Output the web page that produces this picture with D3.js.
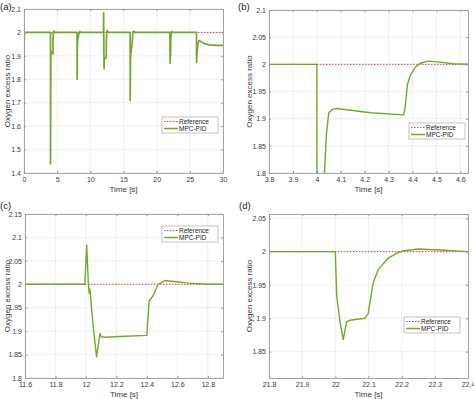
<!DOCTYPE html>
<html>
<head>
<meta charset="utf-8">
<script src="https://cdn.jsdelivr.net/npm/d3@7"></script>
<style>
  body { margin: 0; background: #fff; }
  svg { display: block; font-family: "Liberation Sans", Arial, sans-serif; }
</style>
</head>
<body>
<div id="chart"></div>
<script>
// ---------------- data ----------------
var seriesNames = ["Reference", "MPC-PID"];
var refValue = 2.0;

// start-up transient
var evt0Time  = [0, 0.02, 0.06, 0.12];
var evt0Value = [1.80, 1.95, 1.99, 2.0];

// step at 4 s  (panel b)
var evt4Time  = [3.8, 4.0, 4.001, 4.032, 4.04, 4.05, 4.064, 4.085, 4.224, 4.3625, 4.369, 4.379, 4.39, 4.411, 4.432, 4.467, 4.515, 4.571, 4.633, 4.8];
var evt4Value = [2.0, 2.0, 1.44, 1.80, 1.871, 1.911, 1.917, 1.9186, 1.911, 1.907, 1.92, 1.963, 1.979, 1.994, 2.002, 2.006, 2.004, 2.001, 2.0, 2.0];

// step at 8 s
var evt8Time  = [7.9, 8.0, 8.01, 8.04, 8.1, 8.25, 8.4, 8.6];
var evt8Value = [2.0, 2.0, 1.80, 1.94, 1.97, 1.99, 2.004, 2.0];

// step at 12 s  (panel c)
var evt12Time  = [11.6, 11.993, 12.005, 12.016, 12.022, 12.026, 12.03, 12.048, 12.07, 12.092, 12.1, 12.12, 12.26, 12.40, 12.415, 12.44, 12.474, 12.518, 12.58, 12.66, 12.79, 12.9];
var evt12Value = [2.0, 2.0, 2.084, 2.0, 1.981, 1.99, 1.975, 1.909, 1.845, 1.895, 1.888, 1.887, 1.889, 1.891, 1.965, 1.975, 2.0, 2.008, 2.006, 2.003, 2.0, 2.0];

// step at 16 s
var evt16Time  = [15.9, 16.0, 16.01, 16.05, 16.1, 16.3, 16.4, 16.5, 16.8];
var evt16Value = [2.0, 2.0, 1.71, 1.88, 1.91, 1.95, 2.0, 2.005, 2.0];

// step at 22 s  (panel d)
var evt22Time  = [21.8, 22.0, 22.004, 22.014, 22.024, 22.034, 22.044, 22.089, 22.099, 22.114, 22.129, 22.159, 22.184, 22.204, 22.249, 22.315, 22.4];
var evt22Value = [2.0, 2.0, 1.934, 1.895, 1.868, 1.895, 1.897, 1.9, 1.907, 1.953, 1.973, 1.99, 1.9975, 2.001, 2.004, 2.0025, 2.0];

// step at 26 s
var evt26Time  = [25.9, 26.0, 26.02, 26.1, 26.25, 26.4, 26.7, 27.0, 27.5, 28.0, 29.0, 30.0];
var evt26Value = [2.0, 2.0, 1.872, 1.92, 1.955, 1.966, 1.96, 1.955, 1.95, 1.947, 1.945, 1.945];

// tick values
var xTicksA = [0, 5, 10, 15, 20, 25, 30];
var yTicksA = [1.4, 1.5, 1.6, 1.7, 1.8, 1.9, 2, 2.1];
var xTicksB = [3.8, 3.9, 4, 4.1, 4.2, 4.3, 4.4, 4.5, 4.6];
var yTicksB = [1.8, 1.85, 1.9, 1.95, 2, 2.05, 2.1];
var xTicksC = [11.6, 11.8, 12, 12.2, 12.4, 12.6, 12.8];
var yTicksC = [1.8, 1.85, 1.9, 1.95, 2, 2.05, 2.1, 2.15];
var xTicksD = [21.8, 21.9, 22, 22.1, 22.2, 22.3, 22.4];
var yTicksD = [1.85, 1.9, 1.95, 2, 2.05];

// ---------------- layout ----------------
var width = 474, height = 399;
var green = "#72a92c", red = "#f03c3c";

var fullTime = [].concat(evt0Time, evt4Time, evt8Time, evt12Time, evt16Time, evt22Time, evt26Time);
var fullValue = [].concat(evt0Value, evt4Value, evt8Value, evt12Value, evt16Value, evt22Value, evt26Value);

var panels = [
  { tag: "(a)", x0: 24, x1: 223, y0: 9, y1: 173, xDom: [0, 30], yDom: [1.4, 2.1],
    xTicks: xTicksA, yTicks: yTicksA, time: fullTime, value: fullValue,
    legend: [162, 117], label: [0, 10], ylab: 10, lw: 1.7 },
  { tag: "(b)", x0: 269, x1: 468, y0: 10, y1: 173, xDom: [3.8, 4.632], yDom: [1.8, 2.1],
    xTicks: xTicksB, yTicks: yTicksB, time: evt4Time, value: evt4Value,
    legend: [409, 123], label: [238, 10], ylab: 252, lw: 1.4 },
  { tag: "(c)", x0: 25, x1: 223, y0: 214, y1: 378, xDom: [11.6, 12.9], yDom: [1.8, 2.15],
    xTicks: xTicksC, yTicks: yTicksC, time: evt12Time, value: evt12Value,
    legend: [162, 226], label: [0, 209], ylab: 10, lw: 1.4 },
  { tag: "(d)", x0: 269, x1: 468, y0: 214, y1: 378, xDom: [21.8, 22.4], yDom: [1.8104, 2.0565],
    xTicks: xTicksD, yTicks: yTicksD, time: evt22Time, value: evt22Value,
    legend: [404, 317], label: [239, 209], ylab: 252, lw: 1.4 }
];

var svg = d3.select("#chart").append("svg")
  .attr("width", width)
  .attr("height", height);

var fmt = function(d) { return String(+d.toFixed(3)); };

panels.forEach(function(p, i) {
  var x = d3.scaleLinear().domain(p.xDom).range([p.x0, p.x1]);
  var y = d3.scaleLinear().domain(p.yDom).range([p.y1, p.y0]);
  var g = svg.append("g");

  // grid
  g.append("g").selectAll("line").data(p.xTicks).enter().append("line")
    .attr("x1", function(d) { return x(d); }).attr("x2", function(d) { return x(d); })
    .attr("y1", p.y0).attr("y2", p.y1)
    .attr("stroke", "#e4e4e4").attr("stroke-width", 0.6);
  g.append("g").selectAll("line").data(p.yTicks).enter().append("line")
    .attr("y1", function(d) { return y(d); }).attr("y2", function(d) { return y(d); })
    .attr("x1", p.x0).attr("x2", p.x1)
    .attr("stroke", "#e4e4e4").attr("stroke-width", 0.6);

  // clip
  svg.append("clipPath").attr("id", "clip" + i)
    .append("rect").attr("x", p.x0).attr("y", p.y0)
    .attr("width", p.x1 - p.x0).attr("height", p.y1 - p.y0);

  var plot = g.append("g").attr("clip-path", "url(#clip" + i + ")");

  // reference
  plot.append("line")
    .attr("x1", x(p.xDom[0])).attr("x2", x(p.xDom[1]))
    .attr("y1", y(refValue)).attr("y2", y(refValue))
    .attr("stroke", red).attr("stroke-width", 1)
    .attr("stroke-dasharray", "1.5,1.5");

  // MPC-PID
  var pts = p.time.map(function(t, k) { return [t, p.value[k]]; });
  var line = d3.line().x(function(d) { return x(d[0]); }).y(function(d) { return y(d[1]); });
  plot.append("path").datum(pts)
    .attr("d", line)
    .attr("fill", "none")
    .attr("stroke", green)
    .attr("stroke-width", p.lw)
    .attr("stroke-linejoin", "round");

  // axes
  var axColor = "#9a9a9a", txtColor = "#3a3a3a";
  var axB = g.append("g").attr("transform", "translate(0," + p.y1 + ")")
    .call(d3.axisBottom(x).tickValues(p.xTicks).tickFormat(fmt).tickSizeInner(-2).tickSizeOuter(0).tickPadding(4));
  var axL = g.append("g").attr("transform", "translate(" + p.x0 + ",0)")
    .call(d3.axisLeft(y).tickValues(p.yTicks).tickFormat(fmt).tickSizeInner(-2).tickSizeOuter(0).tickPadding(3));
  var axT = g.append("g").attr("transform", "translate(0," + p.y0 + ")")
    .call(d3.axisTop(x).tickValues(p.xTicks).tickFormat("").tickSizeInner(-2).tickSizeOuter(0));
  var axR = g.append("g").attr("transform", "translate(" + p.x1 + ",0)")
    .call(d3.axisRight(y).tickValues(p.yTicks).tickFormat("").tickSizeInner(-2).tickSizeOuter(0));
  [axB, axL, axT, axR].forEach(function(a) {
    a.select(".domain").attr("stroke", axColor).attr("stroke-width", 0.9);
    a.selectAll(".tick line").attr("stroke", axColor);
    a.selectAll(".tick text").attr("fill", txtColor).attr("font-size", "7px")
      .attr("font-family", "Liberation Sans, Arial, sans-serif");
  });

  // axis labels
  g.append("text")
    .attr("x", (p.x0 + p.x1) / 2).attr("y", p.y1 + 19)
    .attr("text-anchor", "middle").attr("font-size", "8px").attr("fill", txtColor)
    .text("Time [s]");
  g.append("text")
    .attr("transform", "translate(" + p.ylab + "," + ((p.y0 + p.y1) / 2) + ") rotate(-90)")
    .attr("text-anchor", "middle").attr("font-size", "8px").attr("fill", txtColor)
    .text("Oxygen excess ratio");

  // panel tag
  g.append("text")
    .attr("x", p.label[0]).attr("y", p.label[1])
    .attr("font-size", "9.5px").attr("fill", "#222")
    .text(p.tag);

  // legend
  var lg = g.append("g").attr("transform", "translate(" + p.legend[0] + "," + p.legend[1] + ")");
  lg.append("rect").attr("width", 56).attr("height", 16)
    .attr("fill", "#fff").attr("stroke", "#a8a8a8").attr("stroke-width", 0.7);
  var styles = [
    { c: red, w: 1, dash: "1.5,1.5" },
    { c: green, w: 1.5, dash: null }
  ];
  seriesNames.forEach(function(name, k) {
    var yy = 4.5 + k * 7;
    lg.append("line").attr("x1", 2).attr("x2", 16).attr("y1", yy).attr("y2", yy)
      .attr("stroke", styles[k].c).attr("stroke-width", styles[k].w)
      .attr("stroke-dasharray", styles[k].dash);
    lg.append("text").attr("x", 17).attr("y", yy + 2.3)
      .attr("font-size", "6.5px").attr("fill", "#222")
      .text(name);
  });
});
</script>
</body>
</html>
